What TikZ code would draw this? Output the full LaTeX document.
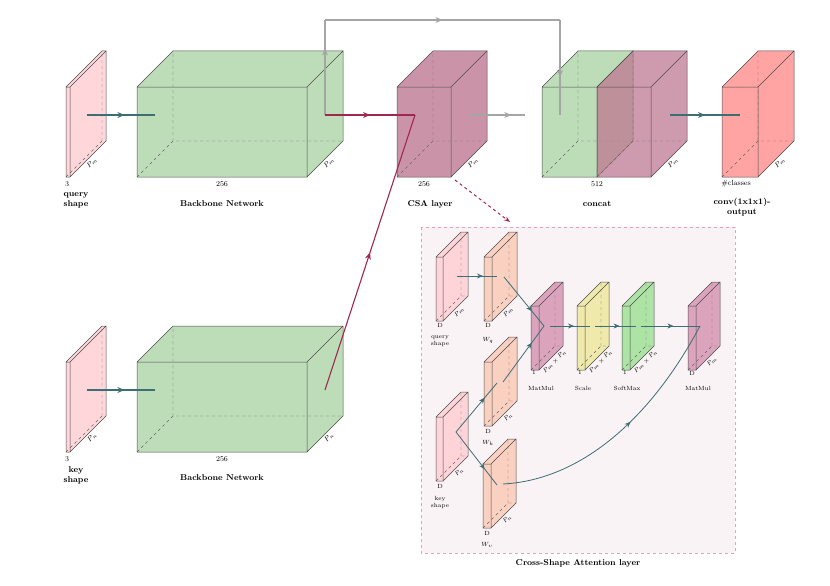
\documentclass[tikz,border=0pt]{standalone}
\usetikzlibrary{arrows.meta,decorations.markings}
\definecolor{cpink}{RGB}{255,205,210}
\definecolor{cgreen}{RGB}{178,214,172}
\definecolor{cpurp}{RGB}{190,120,145}
\definecolor{cred}{RGB}{255,140,140}
\definecolor{corng}{RGB}{250,200,180}
\definecolor{cyel}{RGB}{238,232,160}
\definecolor{cgrn}{RGB}{160,225,150}
\definecolor{cmag}{RGB}{215,150,180}
\definecolor{teal}{RGB}{60,110,115}
\definecolor{wine}{RGB}{160,40,80}
\definecolor{gry}{RGB}{165,165,165}
\definecolor{inbg}{RGB}{250,243,246}
\definecolor{inbd}{RGB}{225,160,190}
\tikzset{
 mid/.style={postaction={decorate},decoration={markings,mark=at position #1 with {\arrow{Stealth[length=7pt,width=6pt]}}}},
 con/.style={line width=1.1pt},
 lbl/.style={font=\fontsize{7.5}{8}\selectfont,inner sep=1pt},
 blbl/.style={font=\bfseries\fontsize{8.5}{10}\selectfont,align=center,inner sep=1pt},
 slbl/.style={font=\fontsize{6}{7}\selectfont,inner sep=1pt,align=center},
}
% x y w h d color opacity
\newcommand\cub[7]{%
\begin{scope}[shift={(#1,#2)}]
 \fill[#6,opacity=#7] (0,0)--(#5,-#5)--(#3+#5,-#5)--(#3+#5,#4-#5)--(#3,#4)--(0,#4)--cycle;
 \draw[black!60,dashed,line width=0.4pt] (0,#4)--(#5,#4-#5)--(#3+#5,#4-#5) (#5,#4-#5)--(#5,-#5);
 \draw[black!70,line width=0.5pt] (0,0) rectangle (#3,#4) (0,0)--(#5,-#5)--(#3+#5,-#5)--(#3,0) (#3+#5,-#5)--(#3+#5,#4-#5)--(#3,#4);
\end{scope}}
\newcommand\dlab[6]{% x y w h d text
\node[lbl,rotate=45,anchor=north] at (#1+#3+#5/2+1,#2+#4-#5/2+1) {#6};}
\newcommand\sdlab[6]{%
\node[slbl,rotate=45,anchor=north] at (#1+#3+#5/2+1,#2+#4-#5/2+1) {#6};}
\begin{document}
\begin{tikzpicture}[x=1pt,y=-1pt]
\useasboundingbox (0,0) rectangle (830,586);
% inset background
\draw[inbd,dashed,line width=0.8pt,fill=inbg] (421,227) rectangle (735,553);
\node[blbl] at (578,563) {Cross-Shape Attention layer};
% top row
\cub{66}{87}{4}{90}{36}{cpink}{0.8}
\dlab{66}{87}{4}{90}{36}{$P_m$}
\node[lbl] at (67,184) {3};
\node[blbl] at (76,200) {query\\shape};
\cub{137}{87}{170}{90}{36}{cgreen}{0.85}
\dlab{137}{87}{170}{90}{36}{$P_m$}
\node[lbl] at (222,184) {256};
\node[blbl] at (222,204) {Backbone Network};
\cub{397}{87}{54}{90}{36}{cpurp}{0.8}
\dlab{397}{87}{54}{90}{36}{$P_m$}
\node[lbl] at (424,184) {256};
\node[blbl] at (430,204) {CSA layer};
\cub{542}{87}{55}{90}{36}{cgreen}{0.85}
\cub{597}{87}{54}{90}{36}{cpurp}{0.75}
\dlab{597}{87}{54}{90}{36}{$P_m$}
\node[lbl] at (597,184) {512};
\node[blbl] at (597,204) {concat};
\cub{722}{87}{36}{90}{36}{cred}{0.8}
\dlab{722}{87}{36}{90}{36}{$P_m$}
\node[lbl] at (736,184) {\#classes};
\node[blbl] at (742,207) {conv(1x1x1)-\\output};
% bottom row
\cub{66}{362}{4}{90}{36}{cpink}{0.8}
\dlab{66}{362}{4}{90}{36}{$P_n$}
\node[lbl] at (67,459) {3};
\node[blbl] at (76,475) {key\\shape};
\cub{137}{362}{170}{90}{36}{cgreen}{0.85}
\dlab{137}{362}{170}{90}{36}{$P_n$}
\node[lbl] at (222,459) {256};
\node[blbl] at (222,478) {Backbone Network};
% coordinates
\coordinate (q0) at (87,115); \coordinate (q1) at (155,115);
\coordinate (k0) at (87,390); \coordinate (k1) at (155,390);
\coordinate (b0) at (325,115); \coordinate (c0) at (415,115);
\coordinate (kb) at (325,390);
\coordinate (g1) at (325,20); \coordinate (g2) at (560,20); \coordinate (g3) at (560,115);
\coordinate (s0) at (470,115); \coordinate (s1) at (525,115);
\coordinate (o0) at (670,115); \coordinate (o1) at (740,115);
\coordinate (d0) at (455,180); \coordinate (d1) at (510,222);
\draw[teal,con,mid=0.55] (q0)--(q1);
\draw[teal,con,mid=0.55] (k0)--(k1);
\draw[gry,con,mid=0.7] (b0)--(g1);
\draw[gry,con,mid=0.5] (g1)--(g2);
\draw[gry,con,mid=0.6] (g2)--(g3);
\draw[gry,con,mid=0.75] (s0)--(s1);
\draw[wine,con,mid=0.5] (b0)--(c0);
\draw[wine,con,mid=0.5] (kb)--(c0);
\draw[teal,con,mid=0.5] (o0)--(o1);
\draw[wine,dashed,line width=1pt,-{Stealth[length=6pt]}] (d0)--(d1);
% inset slabs
\cub{436}{257}{7}{64}{25}{cpink}{0.8}
\sdlab{436}{257}{7}{64}{25}{$P_m$}
\node[slbl] at (440,325) {D}; \node[slbl] at (440,341) {query\\shape};
\cub{484}{257}{8}{64}{25}{corng}{0.8}
\sdlab{484}{257}{8}{64}{25}{$P_m$}
\node[slbl] at (488,325) {D}; \node[slbl] at (488,340) {$W_q$};
\cub{531}{306}{8}{64}{24}{cmag}{0.85}
\sdlab{531}{306}{8}{64}{24}{$P_m\times P_n$}
\node[slbl] at (534,373) {1}; \node[slbl] at (541,388) {MatMul};
\cub{577}{306}{8}{64}{24}{cyel}{0.85}
\sdlab{577}{306}{8}{64}{24}{$P_m\times P_n$}
\node[slbl] at (580,373) {1}; \node[slbl] at (583,388) {Scale};
\cub{622}{306}{8}{64}{24}{cgrn}{0.85}
\sdlab{622}{306}{8}{64}{24}{$P_m\times P_n$}
\node[slbl] at (625,373) {1}; \node[slbl] at (627,388) {SoftMax};
\cub{688}{306}{8}{64}{24}{cmag}{0.85}
\sdlab{688}{306}{8}{64}{24}{$P_m$}
\node[slbl] at (692,373) {D}; \node[slbl] at (698,388) {MatMul};
\cub{484}{362}{8}{64}{25}{corng}{0.8}
\sdlab{484}{362}{8}{64}{25}{$P_n$}
\node[slbl] at (488,431) {D}; \node[slbl] at (488,443) {$W_k$};
\cub{436}{417}{7}{64}{25}{cpink}{0.8}
\sdlab{436}{417}{7}{64}{25}{$P_n$}
\node[slbl] at (440,486) {D}; \node[slbl] at (440,502) {key\\shape};
\cub{483}{464}{8}{64}{25}{corng}{0.8}
\sdlab{483}{464}{8}{64}{25}{$P_n$}
\node[slbl] at (487,533) {D}; \node[slbl] at (487,545) {$W_v$};
% inset connectors
\tikzset{ic/.style={teal,line width=0.8pt},mid/.style={postaction={decorate},decoration={markings,mark=at position #1 with {\arrow{Stealth[length=6pt,width=5pt]}}}}}
\coordinate (iq0) at (457,276); \coordinate (iq1) at (497,276);
\coordinate (wq) at (504,277); \coordinate (m1) at (544,326);
\coordinate (wk) at (503,382);
\coordinate (m1o) at (550,326); \coordinate (sc) at (590,326);
\coordinate (sco) at (595,326); \coordinate (sm) at (636,326);
\coordinate (smo) at (641,326); \coordinate (m2) at (700,326);
\coordinate (ik) at (456,432); \coordinate (wki) at (497,383);
\coordinate (wvi) at (497,485); \coordinate (wv) at (503,484);
\draw[ic,mid=0.65] (iq0)--(iq1);
\draw[ic,mid=0.7] (wq)--(m1);
\draw[ic,mid=0.7] (wk)--(m1);
\draw[ic,mid=0.6] (m1o)--(sc);
\draw[ic,mid=0.6] (sco)--(sm);
\draw[ic,mid=0.55] (smo)--(m2);
\draw[ic,mid=0.7] (ik)--(wki);
\draw[ic,mid=0.7] (ik)--(wvi);
\draw[ic,mid=0.55] (wv) .. controls (580,480) and (650,420) .. (m2);
\end{tikzpicture}
\end{document}
